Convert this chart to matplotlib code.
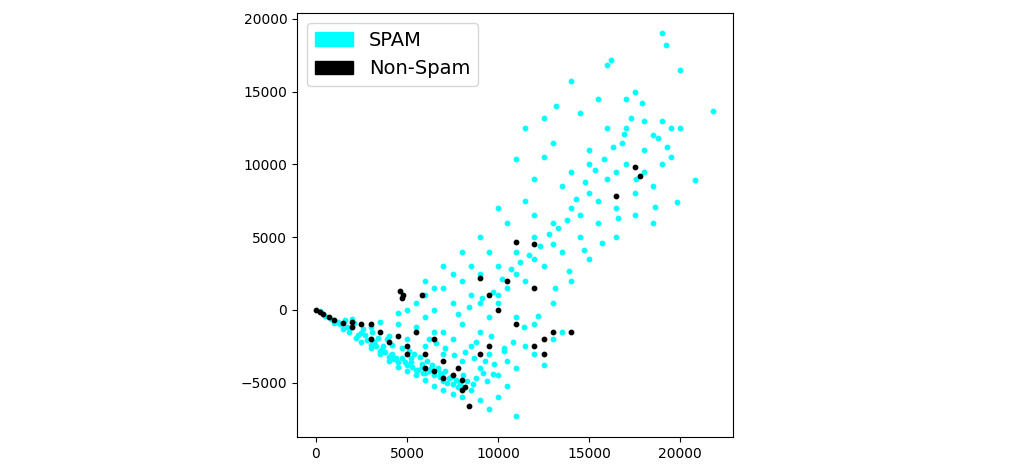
import matplotlib
matplotlib.use('Agg')
import matplotlib.pyplot as plt
from matplotlib.patches import Patch

spam_x = [200, 500, 800, 1000, 1200, 1500, 1800, 2000, 2200, 2500, 2700, 3000, 3200, 3500, 3700, 4000, 4200, 4500, 4700, 5000, 5200, 5500, 5800, 6000, 6200, 6500, 6800, 7000, 7200, 7500, 7800, 8000, 8500, 9000, 9500, 10000, 11000, 10500,
          2000, 3000, 3500, 4000, 4500, 5000, 5500, 6000, 6500, 7000, 7500, 8000, 8500, 9000, 9500, 10000, 10500, 11000, 11500, 12000, 12500, 13000, 13500,
          5500, 6000, 6500, 7000, 7500, 8000, 8500, 9000, 9500, 10000, 10500, 11000, 11500, 12000, 12500, 13000, 13500, 14000, 14500, 15000, 15500, 16000, 16500, 17000, 17500, 18000, 18500, 19000, 19500, 20000, 19000, 19200, 16200, 16000, 14000, 13200, 12500, 11500, 11000, 12000, 10000, 9000, 8000, 7000, 6000, 15000, 16000, 17000, 18000, 17500, 21800, 20800, 19800, 18500, 16500, 15000, 14000, 13000, 12000, 11000, 10000, 9000, 8000, 7000, 6000, 5000, 4500, 14500, 13000, 12500, 15500, 16800, 18000, 19500, 20000, 17000, 14000, 13500, 15000, 11500, 10500, 12000, 9500, 8500, 7500, 6500, 15500, 16500, 14500, 13000, 12000, 11000, 10000, 9000, 17500, 18500, 19000,
          3000, 3500, 4000, 4500, 5000, 5500, 6000, 6500, 7000, 7500, 8000, 2500, 3000, 3800, 4300, 5200, 5800, 6300, 6800, 7300,
          1300, 1700, 2300, 2800, 3300, 3600, 4100, 4400, 4900, 5300, 5600, 5900, 6100, 6400, 6700, 6900, 7100, 7400, 7700, 7900, 8100, 8300, 8600, 8800, 9200, 9400, 9700,
          1600, 2100, 2600, 3100, 3400, 3900, 4200, 4700, 5100, 5400, 5700, 6200, 6600, 7100, 7600, 8200, 8700, 9300, 9800, 10300, 10800,
          7800, 8400, 9100, 9700, 10200, 10700, 11200, 11700, 12300, 12800, 13300, 13800, 14300, 14800, 15300, 15800, 16300, 16900, 17300, 17900, 18800, 19300,
          8800, 9600, 10300, 11400, 12200, 13100, 13900, 14700, 15700, 16600, 17600, 18600]
spam_y = [-100, -400, -600, -900, -800, -1300, -1500, -1200, -1900, -2200, -1700, -2600, -2200, -3000, -2500, -3500, -3000, -3900, -3300, -4200, -3600, -4500, -3900, -4800, -4200, -5200, -4600, -5500, -5000, -5800, -5300, -6000, -5500, -6200, -6800, -6000, -7300, -5200,
          -600, -1200, -800, -1800, -1000, -2000, -1200, -2500, -1500, -3000, -2000, -3500, -2500, -4000, -3000, -4500, -3500, -4000, -2500, -3000, -3800, -2000, -1500,
          500, 1000, 0, 1500, 500, 2000, 1000, 2500, -500, 3000, 1500, 4000, 2000, 5000, 3000, 6000, 4000, 7000, 5000, 8000, 6000, 9000, 7000, 10000, 8000, 11000, 12000, 13000, 12500, 16500, 19000, 18200, 17200, 16800, 15700, 14000, 13200, 12500, 10400, 9000, 7000, 5000, 4000, 3000, 2000, 11000, 12500, 14500, 13000, 15000, 13700, 8900, 7400, 6000, 5000, 3500, 2000, 500, -1000, -500, 500, -1500, -1000, -1500, -500, 0, -200, 13500, 11500, 10500, 14500, 11500, 9500, 10500, 12500, 12500, 9500, 8500, 10000, 7500, 6000, 6500, 4000, 3000, 2500, 1500, 7500, 9500, 6500, 4500, 3500, 2500, 1000, 500, 6500, 8500, 10000,
          -2400, -2800, -3200, -3600, -3800, -4100, -4300, -4500, -4900, -5100, -5300, -1600, -2000, -2900, -3400, -3300, -3700, -4000, -4300, -4700,
          -1000, -1200, -1700, -2100, -2500, -2700, -3100, -3300, -3600, -3900, -4100, -4300, -3500, -3800, -4000, -4400, -4200, -4600, -4800, -5000, -4500, -4900, -5100, -4700, -4300, -4900, -4400,
          -700, -900, -1300, -1500, -1900, -2000, -2400, -2600, -2800, -3000, -3200, -2000, -2300, -2600, -3100, -2900, -3300, -3500, -3700, -2800, -2200,
          -300, 200, 800, 1200, 2100, 2800, 3300, 3800, 4400, 5200, 5600, 6200, 7600, 8800, 9600, 10400, 11200, 12100, 13200, 14200, 11800, 11200,
          -2200, -1800, -2600, -1200, -400, 1500, 2700, 4100, 4600, 6300, 9000, 7100]

ham_x = [0, 200, 400, 700, 1000, 1500, 2000, 2500, 3000, 3500, 4000, 4500, 5000, 4800, 4700, 4600, 5800, 5500, 6000, 6500, 7000, 7500, 7800, 8000, 8200, 8400, 8000, 6500, 7000, 9000, 9500, 10000, 9500, 11000, 12000, 12500, 13000, 12000, 11000, 12000, 10500, 9000, 17500, 17800, 16500, 14000, 12500, 5000, 6000, 3000, 2000]
ham_y = [0, -150, -300, -500, -700, -900, -1200, -1000, -2000, -1500, -2200, -1800, -2500, 1000, 800, 1300, 1000, -1500, -3000, -2000, -3500, -4500, -4000, -5500, -5300, -6600, -4800, -4200, -4700, -3000, -2500, 0, 1000, -1000, -2500, -2000, -1500, 1500, 4700, 4500, 2000, 2200, 9800, 9200, 7800, -1500, -3000, -3000, -4000, -1000, -800]

fig = plt.figure(figsize=(10.22, 4.66), dpi=100)
ax = fig.add_axes([297 / 1022, 29 / 466, 436 / 1022, 424 / 466])
ax.scatter(spam_x, spam_y, color='#00ffff', s=10)
ax.scatter(ham_x, ham_y, color='black', s=10)
ax.set_xlim(-1040, 22900)
ax.set_ylim(-8730, 20400)
ax.set_xticks([0, 5000, 10000, 15000, 20000])
ax.set_yticks([-5000, 0, 5000, 10000, 15000, 20000])
ax.legend(handles=[Patch(color='#00ffff', label='SPAM'), Patch(color='black', label='Non-Spam')],
          loc='upper left', fontsize=14)
fig.savefig('out.png')
